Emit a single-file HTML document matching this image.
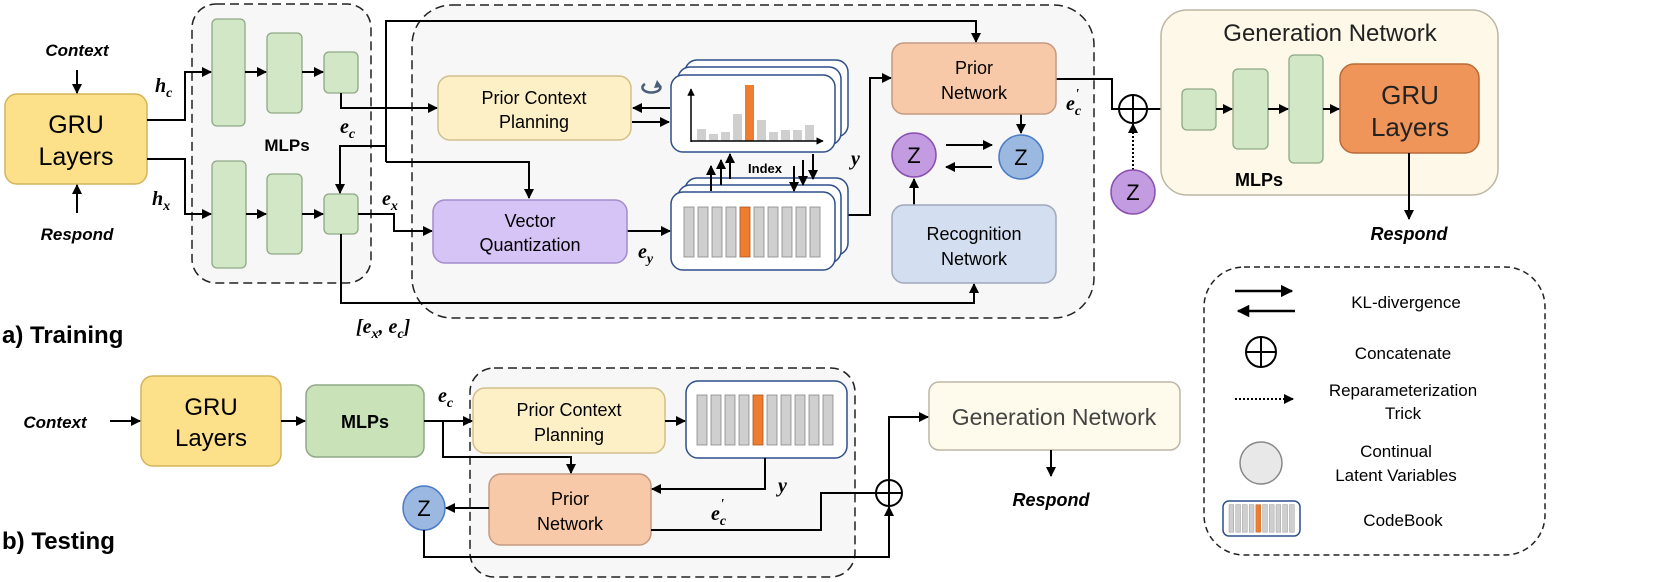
<!DOCTYPE html>
<html><head><meta charset="utf-8"><style>
html,body{margin:0;padding:0;background:#fff}
svg{display:block}
text{font-family:"Liberation Sans",sans-serif}
.m{font-family:"Liberation Serif",serif;font-style:italic;font-weight:bold}
.bi{font-weight:bold;font-style:italic}
</style></head><body>
<svg width="1661" height="582" viewBox="0 0 1661 582" xmlns="http://www.w3.org/2000/svg">
<defs>
<marker id="a" viewBox="0 0 10 10" refX="9" refY="5" markerWidth="5" markerHeight="5" orient="auto-start-reverse"><path d="M0,0L10,5L0,10z" fill="#000"/></marker>
<g id="bars">
<g fill="#cfcfcf" stroke="#888" stroke-width="0.8">
<rect x="0" y="3" width="10" height="50"/><rect x="14" y="3" width="10" height="50"/><rect x="28" y="3" width="10" height="50"/><rect x="42" y="3" width="10" height="50"/>
<rect x="70" y="3" width="10" height="50"/><rect x="84" y="3" width="10" height="50"/><rect x="98" y="3" width="10" height="50"/><rect x="112" y="3" width="10" height="50"/><rect x="126" y="3" width="10" height="50"/>
</g>
<rect x="56" y="3" width="10" height="50" fill="#ee7d30" stroke="#a8541c" stroke-width="0.8"/>
</g>
</defs>

<rect x="412" y="5" width="682" height="313" rx="40" fill="#f7f7f7" stroke="#222" stroke-width="1.5" stroke-dasharray="9,5"/>
<rect x="192" y="4" width="179" height="279" rx="24" fill="#f7f7f7" stroke="#222" stroke-width="1.5" stroke-dasharray="9,5"/>

<rect x="5" y="94" width="142" height="90" rx="12" fill="#fde08a" stroke="#d4b45c" stroke-width="1.5"/>
<text x="76" y="133" font-size="25" text-anchor="middle">GRU</text>
<text x="76" y="165" font-size="25" text-anchor="middle">Layers</text>
<text x="77" y="56" font-size="17" class="bi" text-anchor="middle">Context</text>
<line x1="77" y1="70" x2="77" y2="93" stroke="#000" stroke-width="2" marker-end="url(#a)"/>
<text x="77" y="240" font-size="17" class="bi" text-anchor="middle">Respond</text>
<line x1="77" y1="213" x2="77" y2="185" stroke="#000" stroke-width="2" marker-end="url(#a)"/>

<g fill="#d2e7c6" stroke="#8fa886" stroke-width="1.3">
<rect x="212" y="19" width="33" height="107" rx="5"/><rect x="267" y="33" width="35" height="80" rx="5"/><rect x="324" y="52" width="34" height="41" rx="5"/>
<rect x="212" y="161" width="34" height="107" rx="5"/><rect x="267" y="174" width="35" height="80" rx="5"/><rect x="324" y="194" width="34" height="40" rx="5"/>
</g>
<g stroke="#000" stroke-width="2" fill="none">
<polyline points="147,120 185,120 185,72 211,72" marker-end="url(#a)"/>
<polyline points="147,159 185,159 185,214 211,214" marker-end="url(#a)"/>
<line x1="245" y1="72" x2="266" y2="72" marker-end="url(#a)"/><line x1="302" y1="72" x2="323" y2="72" marker-end="url(#a)"/>
<line x1="246" y1="214" x2="266" y2="214" marker-end="url(#a)"/><line x1="302" y1="214" x2="323" y2="214" marker-end="url(#a)"/>
<polyline points="341,93 341,108 437,108" marker-end="url(#a)"/>
<polyline points="386,162 386,21 976,21 976,42" marker-end="url(#a)"/>
<polyline points="386,162 529,162 529,198" marker-end="url(#a)"/>
<polyline points="386,146 340,146 340,193" marker-end="url(#a)"/>
<polyline points="358,214 394,214 394,231 432,231" marker-end="url(#a)"/>
<polyline points="341,234 341,303 974,303 974,284" marker-end="url(#a)"/>
<line x1="670" y1="108" x2="633" y2="108" marker-end="url(#a)"/>
<line x1="632" y1="122" x2="669" y2="122" marker-end="url(#a)"/>
<line x1="627" y1="231" x2="670" y2="231" marker-end="url(#a)"/>
<polyline points="835,215 870,215 870,78 891,78" marker-end="url(#a)"/>
<line x1="1021" y1="114" x2="1021" y2="133" marker-end="url(#a)"/>
<line x1="914" y1="205" x2="914" y2="179" marker-end="url(#a)"/>
<line x1="946" y1="145" x2="992" y2="145" marker-end="url(#a)"/>
<line x1="992" y1="167" x2="946" y2="167" marker-end="url(#a)"/>
<polyline points="1056,79 1112,79 1112,109 1119,109"/>
<line x1="1147" y1="109" x2="1181" y2="109" marker-end="url(#a)"/>
</g>
<text x="287" y="151" font-size="17" font-weight="bold" text-anchor="middle">MLPs</text>
<text x="155" y="92" font-size="20" class="m">h<tspan font-size="14" dy="5">c</tspan></text>
<text x="152" y="205" font-size="20" class="m">h<tspan font-size="14" dy="5">x</tspan></text>
<text x="340" y="133" font-size="20" class="m">e<tspan font-size="14" dy="5">c</tspan></text>
<text x="382" y="205" font-size="20" class="m">e<tspan font-size="14" dy="5">x</tspan></text>
<text x="638" y="258" font-size="20" class="m">e<tspan font-size="14" dy="5">y</tspan></text>
<text x="851" y="165" font-size="20" class="m">y</text>
<text x="1066" y="110" font-size="20" class="m">e<tspan font-size="14" dy="5">c</tspan><tspan font-size="14" dx="-6" dy="-17">'</tspan></text>

<rect x="438" y="76" width="193" height="64" rx="12" fill="#fdf0c6" stroke="#d2c08c" stroke-width="1.5"/>
<text x="534" y="104" font-size="18" text-anchor="middle">Prior Context</text>
<text x="534" y="128" font-size="18" text-anchor="middle">Planning</text>
<rect x="433" y="200" width="194" height="63" rx="12" fill="#d6c4f6" stroke="#a48ccc" stroke-width="1.5"/>
<text x="530" y="227" font-size="18" text-anchor="middle">Vector</text>
<text x="530" y="251" font-size="18" text-anchor="middle">Quantization</text>
<path d="M645,84 A9,5 0 1,0 660,86" fill="none" stroke="#4a5e7a" stroke-width="2.5"/>
<path d="M657,80 L662,87 L654,88z" fill="#4a5e7a"/>

<g fill="#fff" stroke="#2f4f8a" stroke-width="1.5">
<rect x="685" y="60" width="163" height="77" rx="12"/>
<rect x="678" y="67" width="163" height="78" rx="12"/>
<rect x="671" y="75" width="164" height="77" rx="12"/>
</g>
<g fill="#cfcfcf">
<rect x="697" y="129" width="9" height="12"/><rect x="709" y="134" width="9" height="7"/><rect x="721" y="132" width="9" height="9"/><rect x="733" y="114" width="9" height="27"/>
<rect x="757" y="120" width="9" height="21"/><rect x="769" y="132" width="9" height="9"/><rect x="781" y="130" width="9" height="11"/><rect x="793" y="130" width="9" height="11"/><rect x="805" y="125" width="9" height="16"/>
</g>
<rect x="745" y="85" width="9" height="56" fill="#ee7d30"/>
<g stroke="#000" stroke-width="1.5"><line x1="691" y1="142" x2="691" y2="89" marker-end="url(#a)"/><line x1="691" y1="141" x2="823" y2="141" marker-end="url(#a)"/></g>

<g fill="#fff" stroke="#2f4f8a" stroke-width="1.5">
<rect x="685" y="178" width="163" height="77" rx="12"/>
<rect x="678" y="185" width="163" height="78" rx="12"/>
<rect x="671" y="192" width="164" height="78" rx="12"/>
</g>
<use href="#bars" x="684" y="204"/>
<text x="765" y="173" font-size="13" font-weight="bold" text-anchor="middle">Index</text>
<g stroke="#000" stroke-width="2">
<line x1="711" y1="191" x2="711" y2="166" marker-end="url(#a)"/><line x1="721" y1="185" x2="721" y2="160" marker-end="url(#a)"/><line x1="730" y1="179" x2="730" y2="154" marker-end="url(#a)"/>
<line x1="794" y1="166" x2="794" y2="191" marker-end="url(#a)"/><line x1="803" y1="160" x2="803" y2="185" marker-end="url(#a)"/><line x1="813" y1="154" x2="813" y2="179" marker-end="url(#a)"/>
</g>

<rect x="892" y="43" width="164" height="71" rx="12" fill="#f8c9a8" stroke="#c49a80" stroke-width="1.5"/>
<text x="974" y="74" font-size="18" text-anchor="middle">Prior</text>
<text x="974" y="99" font-size="18" text-anchor="middle">Network</text>
<rect x="892" y="205" width="164" height="78" rx="12" fill="#d3def0" stroke="#a0a8bc" stroke-width="1.5"/>
<text x="974" y="240" font-size="18" text-anchor="middle">Recognition</text>
<text x="974" y="265" font-size="18" text-anchor="middle">Network</text>
<circle cx="914" cy="155" r="22" fill="#c39be0" stroke="#8a50b0" stroke-width="1.5"/>
<text x="914" y="163" font-size="22" text-anchor="middle">Z</text>
<circle cx="1021" cy="157" r="22" fill="#9bb8e0" stroke="#4a7cc6" stroke-width="1.5"/>
<text x="1021" y="165" font-size="22" text-anchor="middle">Z</text>

<circle cx="1133" cy="109" r="14" fill="#fff" stroke="#000" stroke-width="2"/>
<line x1="1119" y1="109" x2="1147" y2="109" stroke="#000" stroke-width="2"/><line x1="1133" y1="95" x2="1133" y2="123" stroke="#000" stroke-width="2"/>
<line x1="1133" y1="170" x2="1133" y2="124" stroke="#000" stroke-width="2" stroke-dasharray="2,2" marker-end="url(#a)"/>
<circle cx="1133" cy="192" r="22" fill="#c39be0" stroke="#8a50b0" stroke-width="1.5"/>
<text x="1133" y="200" font-size="22" text-anchor="middle">Z</text>

<rect x="1161" y="10" width="337" height="185" rx="26" fill="#fdf8e8" stroke="#bcb6a4" stroke-width="1.5"/>
<text x="1330" y="41" font-size="24" text-anchor="middle" fill="#222">Generation Network</text>
<g fill="#d2e7c6" stroke="#8fa886" stroke-width="1.3">
<rect x="1182" y="89" width="34" height="41" rx="5"/><rect x="1233" y="69" width="35" height="80" rx="5"/><rect x="1289" y="55" width="34" height="108" rx="5"/>
</g>
<rect x="1340" y="64" width="139" height="89" rx="14" fill="#f0955a" stroke="#b86a38" stroke-width="1.5"/>
<text x="1410" y="104" font-size="26" text-anchor="middle" fill="#222">GRU</text>
<text x="1410" y="136" font-size="26" text-anchor="middle" fill="#222">Layers</text>
<g stroke="#000" stroke-width="2">
<line x1="1216" y1="109" x2="1232" y2="109" marker-end="url(#a)"/><line x1="1268" y1="109" x2="1288" y2="109" marker-end="url(#a)"/><line x1="1323" y1="109" x2="1339" y2="109" marker-end="url(#a)"/>
<line x1="1409" y1="153" x2="1409" y2="219" marker-end="url(#a)"/>
</g>
<text x="1259" y="186" font-size="18" font-weight="bold" text-anchor="middle">MLPs</text>
<text x="1409" y="240" font-size="18" class="bi" text-anchor="middle">Respond</text>

<text x="2" y="343" font-size="24" font-weight="bold">a) Training</text>
<text x="356" y="333" font-size="20" class="m">[e<tspan font-size="14" dy="5">x</tspan><tspan dy="-5">, e</tspan><tspan font-size="14" dy="5">c</tspan><tspan dy="-5">]</tspan></text>

<rect x="1204" y="267" width="341" height="288" rx="40" fill="#fff" stroke="#222" stroke-width="1.5" stroke-dasharray="6,4"/>
<g stroke="#000" stroke-width="2.5">
<line x1="1235" y1="291" x2="1292" y2="291" marker-end="url(#a)"/><line x1="1295" y1="311" x2="1238" y2="311" marker-end="url(#a)"/>
</g>
<text x="1406" y="308" font-size="17" text-anchor="middle">KL-divergence</text>
<circle cx="1261" cy="352" r="15" fill="none" stroke="#000" stroke-width="2"/>
<line x1="1246" y1="352" x2="1276" y2="352" stroke="#000" stroke-width="2"/><line x1="1261" y1="337" x2="1261" y2="367" stroke="#000" stroke-width="2"/>
<text x="1403" y="359" font-size="17" text-anchor="middle">Concatenate</text>
<line x1="1235" y1="399" x2="1293" y2="399" stroke="#000" stroke-width="2" stroke-dasharray="2,2" marker-end="url(#a)"/>
<text x="1403" y="396" font-size="17" text-anchor="middle">Reparameterization</text>
<text x="1403" y="419" font-size="17" text-anchor="middle">Trick</text>
<circle cx="1261" cy="463" r="21" fill="#e8e8e8" stroke="#888" stroke-width="1.5"/>
<text x="1396" y="457" font-size="17" text-anchor="middle">Continual</text>
<text x="1396" y="481" font-size="17" text-anchor="middle">Latent Variables</text>
<rect x="1223" y="501" width="77" height="35" rx="6" fill="#fff" stroke="#2f4f8a" stroke-width="1.5"/>
<use href="#bars" transform="translate(1229,503) scale(0.48,0.55)"/>
<text x="1403" y="526" font-size="17" text-anchor="middle">CodeBook</text>

<rect x="470" y="368" width="385" height="209" rx="24" fill="#f7f7f7" stroke="#222" stroke-width="1.5" stroke-dasharray="9,5"/>
<text x="55" y="428" font-size="17" class="bi" text-anchor="middle">Context</text>
<rect x="141" y="376" width="140" height="90" rx="12" fill="#fde08a" stroke="#d4b45c" stroke-width="1.5"/>
<text x="211" y="415" font-size="24" text-anchor="middle">GRU</text>
<text x="211" y="446" font-size="24" text-anchor="middle">Layers</text>
<rect x="306" y="385" width="118" height="72" rx="10" fill="#c9e2b8" stroke="#8fa886" stroke-width="1.5"/>
<text x="365" y="428" font-size="18" font-weight="bold" text-anchor="middle">MLPs</text>
<text x="438" y="402" font-size="20" class="m">e<tspan font-size="14" dy="5">c</tspan></text>
<rect x="473" y="388" width="192" height="65" rx="12" fill="#fdf0c6" stroke="#d2c08c" stroke-width="1.5"/>
<text x="569" y="416" font-size="18" text-anchor="middle">Prior Context</text>
<text x="569" y="441" font-size="18" text-anchor="middle">Planning</text>
<rect x="686" y="381" width="161" height="77" rx="12" fill="#fff" stroke="#2f4f8a" stroke-width="1.5"/>
<use href="#bars" x="697" y="392"/>
<rect x="489" y="474" width="162" height="71" rx="12" fill="#f8c9a8" stroke="#c49a80" stroke-width="1.5"/>
<text x="570" y="505" font-size="18" text-anchor="middle">Prior</text>
<text x="570" y="530" font-size="18" text-anchor="middle">Network</text>
<ellipse cx="424" cy="508" rx="21" ry="22" fill="#9bb8e0" stroke="#4a7cc6" stroke-width="1.5"/>
<text x="424" y="516" font-size="22" text-anchor="middle">Z</text>
<text x="778" y="492" font-size="20" class="m">y</text>
<text x="711" y="520" font-size="20" class="m">e<tspan font-size="14" dy="5">c</tspan><tspan font-size="14" dx="-6" dy="-17">'</tspan></text>
<circle cx="889" cy="493" r="13" fill="#fff" stroke="#000" stroke-width="2"/>
<line x1="876" y1="493" x2="902" y2="493" stroke="#000" stroke-width="2"/><line x1="889" y1="480" x2="889" y2="506" stroke="#000" stroke-width="2"/>
<rect x="929" y="382" width="251" height="68" rx="10" fill="#fefbec" stroke="#bcb6a4" stroke-width="1.5"/>
<text x="1054" y="425" font-size="23" text-anchor="middle" fill="#444">Generation Network</text>
<text x="1051" y="506" font-size="18" class="bi" text-anchor="middle">Respond</text>
<g stroke="#000" stroke-width="2" fill="none">
<line x1="110" y1="421" x2="140" y2="421" marker-end="url(#a)"/>
<line x1="281" y1="421" x2="305" y2="421" marker-end="url(#a)"/>
<line x1="424" y1="421" x2="472" y2="421" marker-end="url(#a)"/>
<polyline points="443,421 443,457 571,457 571,473" marker-end="url(#a)"/>
<line x1="665" y1="421" x2="685" y2="421" marker-end="url(#a)"/>
<polyline points="765,458 765,489 652,489" marker-end="url(#a)"/>
<line x1="489" y1="508" x2="446" y2="508" marker-end="url(#a)"/>
<polyline points="651,530 821,530 821,493 876,493"/>
<polyline points="424,530 424,557 889,557 889,507" marker-end="url(#a)"/>
<polyline points="889,480 889,417 928,417" marker-end="url(#a)"/>
<line x1="1051" y1="450" x2="1051" y2="476" marker-end="url(#a)"/>
</g>
<text x="2" y="549" font-size="24" font-weight="bold">b) Testing</text>
</svg>
</body></html>
